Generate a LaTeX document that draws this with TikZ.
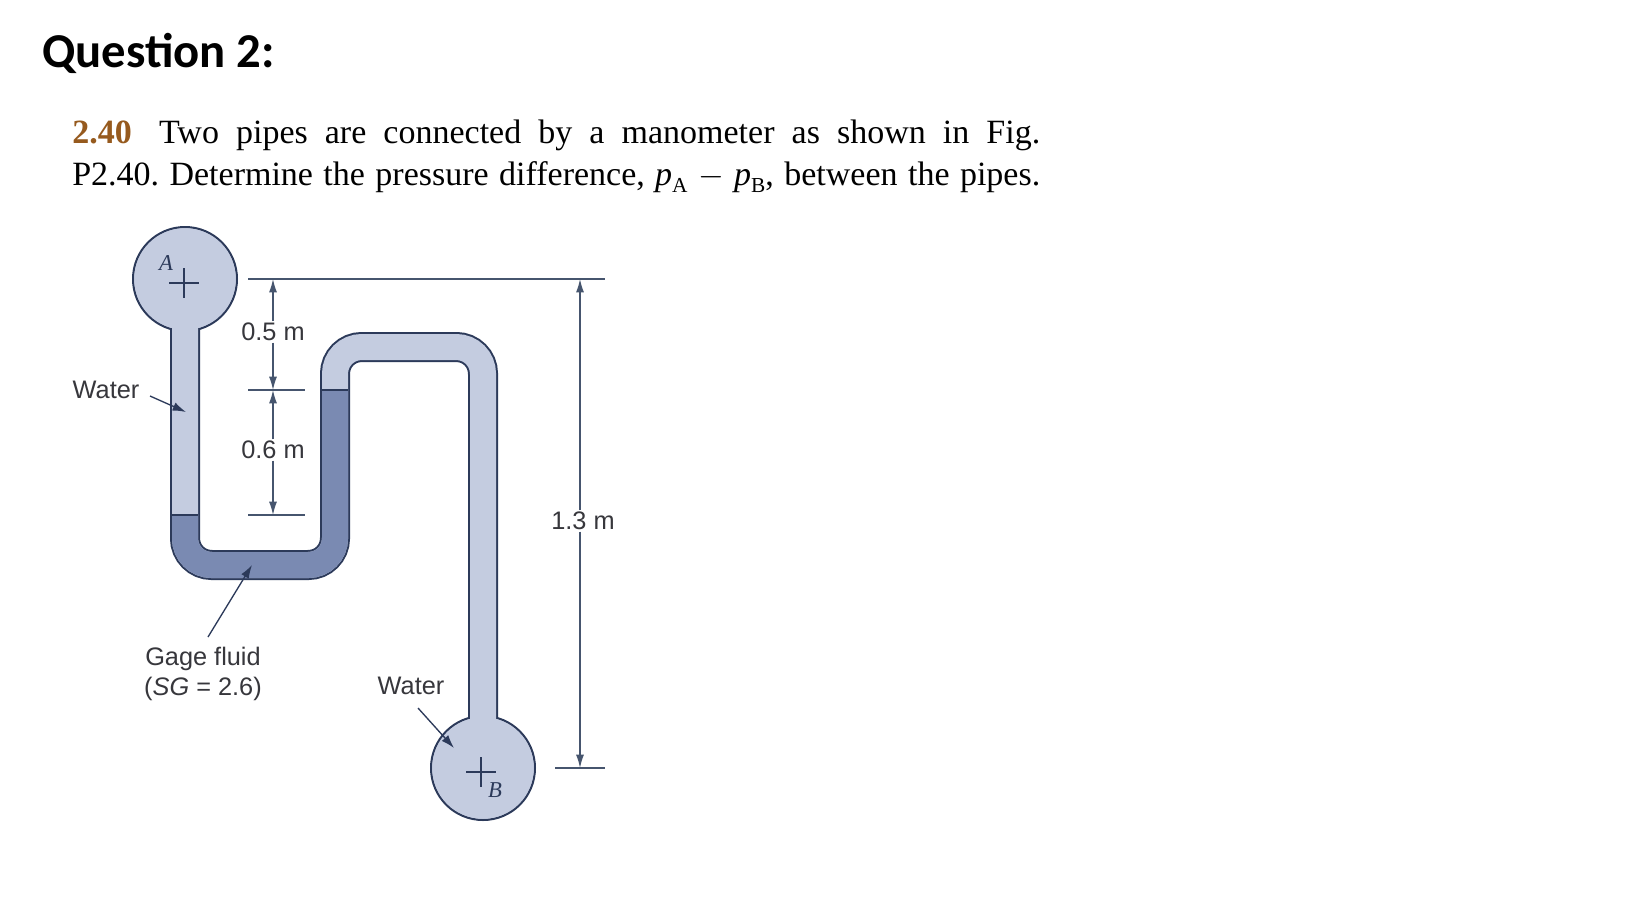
\documentclass[tikz,border=0pt]{standalone}
\usepackage{fontspec}
\setmainfont{Liberation Serif}
\newfontfamily\titlefont{Carlito}
\newfontfamily\lblfont{Liberation Sans}
\usetikzlibrary{arrows.meta}
\definecolor{pipelt}{RGB}{196,204,224}
\definecolor{pipedk}{RGB}{122,138,178}
\definecolor{pipeln}{RGB}{44,58,90}
\definecolor{dimln}{RGB}{70,85,110}
\definecolor{lbl}{RGB}{55,55,60}
\definecolor{numbr}{RGB}{150,90,30}
\frenchspacing
\newcommand{\subsc}[1]{\raisebox{-0.22em}{\fontsize{16}{16}\selectfont #1}}
\begin{document}
\begin{tikzpicture}[x=0.75pt,y=-0.75pt,
  lab/.style={font=\lblfont\fontsize{19}{22}\selectfont, text=lbl, inner sep=1pt},
  dim/.style={draw=dimln, line width=1pt},
  dimarr/.style={draw=dimln, line width=1pt, -{Latex[length=10pt,width=6pt]}},
  pointer/.style={draw=pipeln, line width=1pt, -{Latex[length=10pt,width=6.5pt]}},
  bulb/.style={circle, fill=pipelt, draw=pipeln, line width=1.5pt, inner sep=0pt, minimum size=78pt}]
\useasboundingbox (0,0) rectangle (1634,900);
\fill[white] (0,0) rectangle (1634,900);
% title and text
\node[anchor=base west, inner sep=0pt] (title) at (42,67) {\titlefont\bfseries\fontsize{36.5}{40}\selectfont Question 2:};
\node[anchor=base west, inner sep=0pt] (l1) at (72,143) {\fontsize{25.5}{30}\selectfont\makebox[726pt][s]{\textcolor{numbr}{\textbf{2.40}}\hspace{0.3em} Two pipes are connected by a manometer as shown in Fig.}};
\node[anchor=base west, inner sep=0pt] (l2) at (72,185) {\fontsize{25.5}{30}\selectfont\makebox[726pt][s]{P2.40. Determine the pressure difference, \textit{p}\subsc{A} $-$ \textit{p}\subsc{B}, between the pipes.}};
% pipe
\coordinate (pa) at (185,279);
\coordinate (pb) at (483,768);
\draw[pipeln, line width=22.5pt, rounded corners=20pt] (185,290) -- (185,565) -- (335,565) -- (335,347) -- (483,347) -- (483,760);
\node[bulb] (A) at (pa) {};
\node[bulb] (B) at (pb) {};
\draw[pipelt, line width=19.5pt, rounded corners=20pt] (185,290) -- (185,565) -- (335,565) -- (335,347) -- (483,347) -- (483,760);
\fill[pipelt] (pa) circle (38pt);
\fill[pipelt] (pb) circle (38pt);
\draw[pipedk, line width=19.5pt, rounded corners=20pt] (185,515) -- (185,565) -- (335,565) -- (335,390);
\draw[pipeln, line width=1.2pt] (172,515) -- (198,515);
\draw[pipeln, line width=1.2pt] (322,390) -- (348,390);
% centre marks
\draw[pipeln, line width=0.9pt] (169,283) -- (199,283) (184,268) -- (184,298);
\node[font=\itshape\fontsize{17}{20}\selectfont, text=pipeln, inner sep=0pt] (Al) at (166,263) {A};
\draw[pipeln, line width=0.9pt] (466,772) -- (496,772) (481,757) -- (481,787);
\node[font=\itshape\fontsize{17}{20}\selectfont, text=pipeln, inner sep=0pt] (Bl) at (495,790) {B};
% dimension lines
\coordinate (t1) at (248,279); \coordinate (t2) at (605,279);
\draw[dim] (t1) -- (t2);
\coordinate (m1) at (248,390); \coordinate (m2) at (305,390);
\draw[dim] (m1) -- (m2);
\coordinate (b1) at (248,515); \coordinate (b2) at (305,515);
\draw[dim] (b1) -- (b2);
\coordinate (r1) at (555,768); \coordinate (r2) at (605,768);
\draw[dim] (r1) -- (r2);
\node[lab, fill=white] (d05) at (273,332) {0.5 m};
\node[lab, fill=white] (d06) at (273,450) {0.6 m};
\node[lab, fill=white] (d13) at (583,521) {1.3 m};
\coordinate (a1) at (273,279); \coordinate (a2) at (273,390); \coordinate (a3) at (273,515);
\draw[dimarr] (d05.north -| a1) -- (a1);
\draw[dimarr] (d05.south -| a1) -- (a2);
\draw[dimarr] (d06.north -| a1) -- (a2);
\draw[dimarr] (d06.south -| a1) -- (a3);
\coordinate (c1) at (580,279); \coordinate (c2) at (580,768);
\draw[dimarr] (d13.north -| c1) -- (c1);
\draw[dimarr] (d13.south -| c1) -- (c2);
% labels
\node[lab] (w1) at (106,390) {Water};
\coordinate (w1t) at (186,412);
\draw[pointer] (150,396) -- (w1t);
\node[lab, align=center] (gf) at (203,674) {Gage fluid\\(\textit{SG} = 2.6)};
\coordinate (gft) at (252,565);
\draw[pointer] (208,637) -- (gft);
\node[lab] (w2) at (411,686) {Water};
\coordinate (w2t) at (454,748);
\draw[pointer] (418,708) -- (w2t);
\end{tikzpicture}
\end{document}
